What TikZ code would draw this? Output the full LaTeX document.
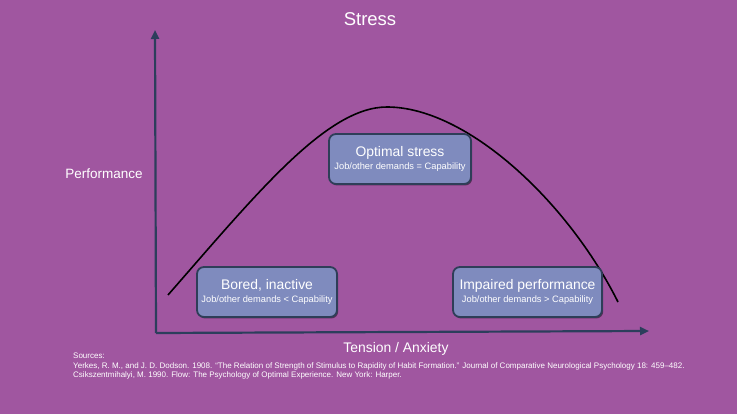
\documentclass[tikz,border=0pt]{standalone}
\usepackage{fontspec}
\setmainfont{Liberation Sans}
\usetikzlibrary{arrows.meta,shadows}
\definecolor{bg}{RGB}{160,86,160}
\definecolor{boxfill}{RGB}{127,139,190}
\definecolor{boxline}{RGB}{46,62,88}
\definecolor{axis}{RGB}{44,62,92}
\tikzset{
  zone/.style={draw=boxline, line width=1.8pt, fill=boxfill, rounded corners=7pt,
    drop shadow={shadow xshift=1.2pt, shadow yshift=-1.5pt, opacity=0.45, fill=black},
    align=center, text=white, inner sep=0pt, minimum height=50pt},
  ax/.style={draw=axis, line width=2.2pt, -{Triangle[length=9pt,width=8pt]}},
  lbl/.style={text=white, inner sep=0pt}
}
\newcommand{\ztext}[2]{\fontsize{13.9}{15}\selectfont #1\\[0.5pt]\fontsize{9.3}{10}\selectfont #2}
\begin{document}
\begin{tikzpicture}[x=1pt,y=-1pt]
\fill[bg] (0,0) rectangle (737,414);
\useasboundingbox (0,0) rectangle (737,414);
\coordinate (o) at (156,333);
\coordinate (ytip) at (155,30);
\coordinate (xtip) at (649,331);
\draw[ax] (o) -- (ytip);
\draw[ax] (o) -- (xtip);
% curve
\coordinate (c0) at (168,295);
\coordinate (cp) at (387,107);
\coordinate (c1) at (618,302);
\draw[black, line width=1.6pt] (c0) .. controls (258,192) and (327,107) .. (cp)
  .. controls (467,107) and (568,202) .. (c1);
% boxes
\node[zone, minimum width=140pt] (bored) at (267,292)
  {\ztext{Bored, inactive}{Job/other demands < Capability}};
\node[zone, minimum width=142pt] (opt) at (400,159)
  {\ztext{Optimal stress}{Job/other demands = Capability}};
\node[zone, minimum width=149pt] (imp) at (527.5,292)
  {\ztext{Impaired performance}{Job/other demands > Capability}};
% labels
\node[lbl, font=\fontsize{18.5}{20}\selectfont] (title) at (370,19) {Stress};
\node[lbl, font=\fontsize{13.5}{15}\selectfont] (perf) at (104,174) {Performance};
\node[lbl, font=\fontsize{13.9}{15}\selectfont] (tens) at (396,349) {Tension / Anxiety};
\node[lbl, anchor=north west, align=left, font=\fontsize{8}{9.4}\selectfont] (src) at (73,353)
  {Sources:\\
  Yerkes, R. M., and J. D. Dodson. 1908. “The Relation of Strength of Stimulus to Rapidity of Habit Formation.” Journal of Comparative Neurological Psychology 18: 459–482.\\
  Csikszentmihalyi, M. 1990. Flow: The Psychology of Optimal Experience. New York: Harper.};
\end{tikzpicture}
\end{document}
